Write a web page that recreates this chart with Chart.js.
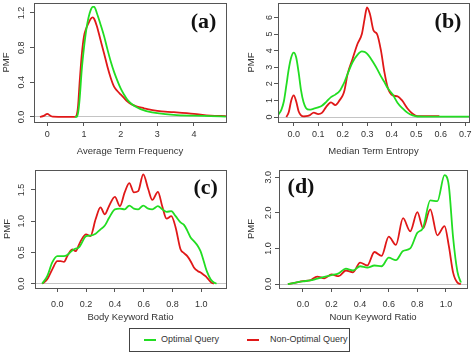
<!DOCTYPE html>
<html>
<head>
<meta charset="utf-8">
<script src="https://cdn.jsdelivr.net/npm/chart.js@4"></script>
<style>
  body { margin: 0; background: #fff; }
  #wrap { position: relative; width: 474px; height: 354px; overflow: hidden; }
  #wrap canvas { position: absolute; }
  #legend { position: absolute; left: 129px; top: 328px; width: 219px; height: 22px; border: 1px solid #444;
            font: 9px "Liberation Sans", Arial, sans-serif; color: #333; }
  #legend .sw { position: absolute; top: 10px; height: 2px; }
  #legend .tx { position: absolute; top: 5px; white-space: nowrap; }
</style>
</head>
<body>
<div id="wrap">
  <canvas id="pa" width="237" height="160" style="left:0;top:0"></canvas>
  <canvas id="pb" width="237" height="160" style="left:237px;top:0"></canvas>
  <canvas id="pc" width="237" height="165" style="left:0;top:160px"></canvas>
  <canvas id="pd" width="237" height="165" style="left:237px;top:160px"></canvas>
  <div id="legend"></div>
</div>
<script>
const seriesNames = ['Optimal Query', 'Non-Optimal Query'];
const seriesColors = ['#22dd22', '#e01818'];

// (a) Average Term Frequency
const aX = [-0.2, -0.1, 0, 0.08, 0.15, 0.5, 0.75, 0.8, 0.84, 0.88, 0.94, 1.0, 1.06, 1.12, 1.18, 1.24, 1.28, 1.35, 1.45, 1.55,
            1.64, 1.73, 1.82, 1.91, 2.0, 2.09, 2.18, 2.3, 2.45, 2.64, 2.73, 3.0, 3.45, 4.0, 4.45, 4.87];
const aOptimal = [null, null, null, null, null, null, 0, 0, 0.05, 0.2, 0.55, 0.8, 1.0, 1.14, 1.23, 1.27, 1.27, 1.2, 1.07, 0.93,
                  0.78, 0.64, 0.52, 0.42, 0.33, 0.26, 0.2, 0.15, 0.11, 0.075, 0.065, 0.045, 0.025, 0.015, 0.01, 0.005];
const aNonOptimal = [0, 0.012, 0.035, 0.015, 0.003, 0, 0, 0.02, 0.13, 0.39, 0.72, 0.93, 1.02, 1.08, 1.13, 1.15, 1.13, 1.05, 0.89, 0.73,
                     0.58, 0.45, 0.35, 0.3, 0.26, 0.22, 0.18, 0.145, 0.12, 0.1, 0.09, 0.07, 0.055, 0.035, 0.015, 0.01];
const aXTicks = ['0', '1', '2', '3', '4'];
const aYTicks = ['0.0', '0.4', '0.8', '1.2'];

// (b) Median Term Entropy
const bX = [-0.065, -0.05, -0.04, -0.03, -0.02, -0.01, 0, 0.01, 0.02, 0.03, 0.04, 0.05, 0.064, 0.082, 0.1, 0.115, 0.132, 0.152,
            0.17, 0.189, 0.2, 0.207, 0.22, 0.24, 0.26, 0.278, 0.289, 0.299, 0.311, 0.326, 0.34, 0.356, 0.37, 0.383, 0.404,
            0.424, 0.442, 0.465, 0.485, 0.505, 0.55, 0.594, 0.65, 0.715];
const bOptimal = [0.1, 0.45, 0.95, 1.9, 2.9, 3.6, 3.88, 3.6, 2.7, 1.6, 0.9, 0.55, 0.44, 0.5, 0.58, 0.68, 0.9, 1.2,
                  1.35, 1.6, 1.9, 2.1, 2.6, 3.3, 3.75, 3.95, 3.93, 3.82, 3.6, 3.25, 2.9, 2.45, 2.1, 1.75, 1.35,
                  0.85, 0.55, 0.25, 0.1, 0.03, 0.02, 0.02, 0.02, 0.02];
const bNonOptimal = [null, null, null, 0, 0.3, 1.0, 1.3, 0.95, 0.35, 0.1, 0.04, 0.05, 0.1, 0.26, 0.18, 0.25, 0.6, 0.88,
                     0.72, 1.05, 1.3, 1.6, 2.6, 3.5, 4.4, 5.0, 5.9, 6.6, 6.2, 5.2, 5.0, 4.0, 2.7, 1.8, 1.3,
                     1.25, 1.0, 0.5, 0.2, 0.05, 0.05, 0.05, null, null];
const bXTicks = ['0.0', '0.1', '0.2', '0.3', '0.4', '0.5', '0.6', '0.7'];
const bYTicks = ['0', '1', '2', '3', '4', '5', '6'];

// (c) Body Keyword Ratio
const cX = [-0.105, -0.07, -0.035, 0, 0.023, 0.046, 0.069, 0.093, 0.104, 0.127, 0.15, 0.162, 0.2, 0.23, 0.266, 0.3, 0.33,
            0.359, 0.4, 0.435, 0.468, 0.5, 0.532, 0.562, 0.597, 0.632, 0.66, 0.699, 0.729, 0.759, 0.792, 0.822, 0.856,
            0.88, 0.903, 0.926, 0.949, 0.977, 0.995, 1.007, 1.03, 1.042, 1.065, 1.076, 1.088, 1.106];
const cOptimal = [0, 0.12, 0.34, 0.44, 0.44, 0.44, 0.46, 0.51, 0.53, 0.56, 0.58, 0.62, 0.76, 0.77, 0.8, 0.87, 0.93,
                  1.05, 1.19, 1.2, 1.19, 1.25, 1.2, 1.19, 1.25, 1.2, 1.19, 1.24, 1.19, 1.15, 1.16, 1.08, 0.98,
                  0.94, 0.85, 0.74, 0.68, 0.6, 0.52, 0.44, 0.26, 0.18, 0.07, 0.04, 0.02, 0];
const cNonOptimal = [0, 0.07, 0.23, 0.36, 0.36, 0.35, 0.44, 0.53, 0.55, 0.52, 0.62, 0.68, 0.79, 0.76, 1.03, 1.22, 1.11,
                     1.24, 1.39, 1.24, 1.46, 1.61, 1.46, 1.48, 1.75, 1.51, 1.34, 1.47, 1.24, 1.04, 1.08, 0.9, 0.55,
                     0.49, 0.44, 0.36, 0.26, 0.2, 0.18, 0.16, 0.12, 0.09, 0.03, 0.01, 0, null];
const cXTicks = ['0.0', '0.2', '0.4', '0.6', '0.8', '1.0'];
const cYTicks = ['0.0', '0.5', '1.0', '1.5'];

// (d) Noun Keyword Ratio
const dX = [-0.105, -0.05, 0, 0.05, 0.1, 0.15, 0.2, 0.25, 0.3, 0.35, 0.4, 0.45, 0.5, 0.55, 0.6, 0.65, 0.7, 0.75, 0.8,
            0.84, 0.89, 0.94, 0.99, 1.02, 1.05, 1.08, 1.105];
const dOptimal = [0, 0.04, 0.075, 0.1, 0.15, 0.2, 0.25, 0.3, 0.43, 0.38, 0.5, 0.46, 0.52, 0.5, 0.74, 0.67, 0.93, 1.0, 1.44,
                  1.58, 2.35, 2.33, 3.06, 2.76, 1.3, 0.35, 0.04];
const dNonOptimal = [0, 0.04, 0.08, 0.1, 0.21, 0.16, 0.27, 0.22, 0.38, 0.33, 0.6, 0.52, 0.9, 0.79, 1.33, 1.1, 1.85, 1.48, 2.02,
                     1.57, 2.1, 1.37, 1.63, 1.07, 0.32, 0.04, 0];
const dXTicks = ['0.0', '0.2', '0.4', '0.6', '0.8', '1.0'];
const dYTicks = ['0.0', '1.0', '2.0', '3.0'];

Chart.defaults.font.family = '"Liberation Sans", Arial, sans-serif';
Chart.defaults.color = '#333';

const boxPlugin = {
  id: 'panelBox',
  afterDraw(chart, args, opts) {
    const { ctx, chartArea: a } = chart;
    ctx.save();
    ctx.strokeStyle = '#555';
    ctx.lineWidth = 1;
    ctx.strokeRect(Math.round(a.left) + 0.5, Math.round(a.top) + 0.5,
                   Math.round(a.right - a.left), Math.round(a.bottom - a.top));
    ctx.font = 'bold 22px "Liberation Serif", "Times New Roman", serif';
    ctx.fillStyle = '#111';
    ctx.textAlign = 'center';
    ctx.textBaseline = 'middle';
    ctx.fillText(opts.text, opts.x, opts.y);
    ctx.restore();
  }
};

function toPoints(xs, ys) {
  return xs.map((x, i) => ({ x: x, y: ys[i] }));
}

function makePanel(id, p) {
  const tickVals = arr => arr.map(Number);
  new Chart(document.getElementById(id), {
    type: 'line',
    data: {
      datasets: [
        { label: seriesNames[0], data: toPoints(p.xs, p.opt), borderColor: seriesColors[0] },
        { label: seriesNames[1], data: toPoints(p.xs, p.non), borderColor: seriesColors[1] }
      ]
    },
    options: {
      responsive: false,
      animation: false,
      devicePixelRatio: 1,
      layout: { padding: { top: p.padTop, right: p.padRight, left: 0, bottom: 0 } },
      elements: {
        point: { radius: 0 },
        line: { borderWidth: 1.8, cubicInterpolationMode: 'monotone', fill: false }
      },
      plugins: {
        legend: { display: false },
        tooltip: { enabled: false },
        panelBox: p.label
      },
      scales: {
        x: {
          type: 'linear',
          min: p.xMin, max: p.xMax,
          afterBuildTicks: s => { s.ticks = tickVals(p.xTicks).map(v => ({ value: v })); },
          afterFit: s => { s.height = p.xH; s.paddingLeft = 0; s.paddingRight = 0; },
          ticks: {
            padding: p.xTickPad, maxRotation: 0, autoSkip: false, font: { size: 9 },
            callback: (v, i) => p.xTicks[i]
          },
          grid: { drawOnChartArea: false, drawTicks: true, tickLength: 4, tickColor: '#555' },
          border: { display: false },
          title: { display: true, text: p.xTitle, font: { size: 9.5 }, padding: { top: 0, bottom: p.xTitlePad } }
        },
        y: {
          min: p.yMin, max: p.yMax,
          afterBuildTicks: s => { s.ticks = tickVals(p.yTicks).map(v => ({ value: v })); },
          afterFit: s => { s.width = p.yW; s.paddingTop = 0; s.paddingBottom = 0; },
          ticks: {
            padding: p.yTickPad, minRotation: 90, maxRotation: 90, crossAlign: 'center', autoSkip: false,
            font: { size: 9 },
            callback: (v, i) => p.yTicks[i]
          },
          grid: {
            drawTicks: true, tickLength: 4, tickColor: '#555',
            color: c => (c.tick && c.tick.value === 0 ? '#c4c4c4' : 'rgba(0,0,0,0)')
          },
          border: { display: false },
          title: { display: true, text: 'PMF', font: { size: 9.5 }, padding: { top: p.yTitlePad, bottom: 0 } }
        }
      }
    },
    plugins: [boxPlugin]
  });
}

makePanel('pa', {
  xs: aX, opt: aOptimal, non: aNonOptimal, xTicks: aXTicks, yTicks: aYTicks,
  xMin: -0.363, xMax: 4.873, yMin: -0.058, yMax: 1.315, xTitle: 'Average Term Frequency',
  padTop: 3, padRight: 11, yW: 34, xH: 38, xTickPad: 3.6, yTickPad: 2, yTitlePad: 1, xTitlePad: 3.4,
  label: { text: '(a)', x: 203.5, y: 22 }
});
makePanel('pb', {
  xs: bX, opt: bOptimal, non: bNonOptimal, xTicks: bXTicks, yTicks: bYTicks,
  xMin: -0.064, xMax: 0.715, yMin: -0.3, yMax: 6.87, xTitle: 'Median Term Entropy',
  padTop: 3, padRight: 5, yW: 41, xH: 38, xTickPad: 3.6, yTickPad: 2.2, yTitlePad: 9, xTitlePad: 3.4,
  label: { text: '(b)', x: 211, y: 22 }
});
makePanel('pc', {
  xs: cX, opt: cOptimal, non: cNonOptimal, xTicks: cXTicks, yTicks: cYTicks,
  xMin: -0.155, xMax: 1.172, yMin: -0.069, yMax: 1.819, xTitle: 'Body Keyword Ratio',
  padTop: 10, padRight: 11, yW: 35, xH: 37, xTickPad: 7.1, yTickPad: 3, yTitlePad: 1.6, xTitlePad: 1.7,
  label: { text: '(c)', x: 205.7, y: 28.5 }
});
makePanel('pd', {
  xs: dX, opt: dOptimal, non: dNonOptimal, xTicks: dXTicks, yTicks: dYTicks,
  xMin: -0.167, xMax: 1.147, yMin: -0.112, yMax: 3.205, xTitle: 'Noun Keyword Ratio',
  padTop: 10, padRight: 7, yW: 42, xH: 37, xTickPad: 7.1, yTickPad: 0, yTitlePad: 9, xTitlePad: 1.7,
  label: { text: '(d)', x: 64, y: 27.5 }
});

// legend below the panels
const legendPos = [{ sw: 14, tx: 31 }, { sw: 117, tx: 140 }];
const legend = document.getElementById('legend');
seriesNames.forEach((name, i) => {
  legend.insertAdjacentHTML('beforeend',
    `<div class="sw" style="left:${legendPos[i].sw}px;width:12px;background:${seriesColors[i]}"></div>` +
    `<div class="tx" style="left:${legendPos[i].tx}px">${name}</div>`);
});
</script>
</body>
</html>
